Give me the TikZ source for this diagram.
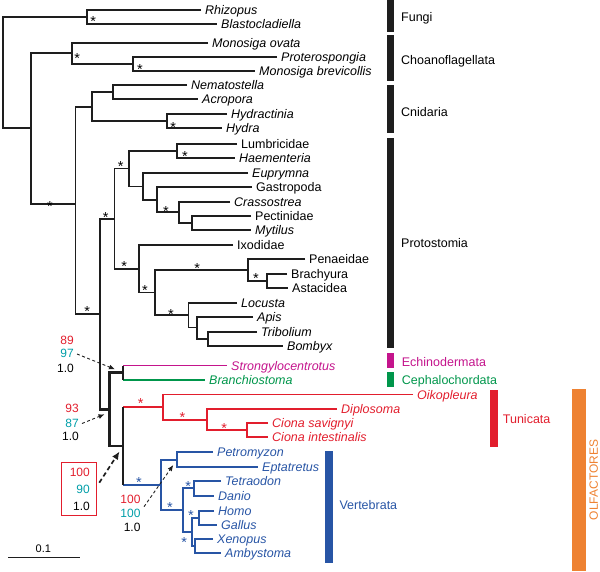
\documentclass[tikz,border=0pt]{standalone}
\usepackage{fontspec}
\setmainfont{Liberation Sans}
\usetikzlibrary{arrows.meta}
\definecolor{cred}{RGB}{226,30,45}
\definecolor{cteal}{RGB}{0,158,168}
\definecolor{cmag}{RGB}{196,20,140}
\definecolor{cgreen}{RGB}{0,150,75}
\definecolor{cblue}{RGB}{40,85,165}
\definecolor{corange}{RGB}{238,130,50}
\definecolor{cblk}{RGB}{30,30,30}
\newcommand\cladebr[4][]{\draw[br,#1] (#3) -| (#2) |- (#4);}
\begin{document}
\begin{tikzpicture}[x=1pt,y=-1pt,
  br/.style={line width=1.9pt,cblk},
  brthick/.style={line width=2.6pt,cblk},
  tip/.style={anchor=west,inner xsep=4pt,inner ysep=0pt,text height=9pt,text depth=0pt,font=\fontsize{12.5}{14}\selectfont},
  tipi/.style={tip,font=\fontsize{12.5}{14}\selectfont\itshape},
  grp/.style={anchor=west,inner sep=0pt,text height=9pt,text depth=0pt,font=\fontsize{12.5}{14}\selectfont},
  num/.style={anchor=east,inner sep=0pt,text height=8.6pt,text depth=0pt,font=\fontsize{12}{14}\selectfont},
  astk/.style={anchor=base,inner sep=0pt,yshift=-8.3pt,font=\fontsize{14.5}{16}\selectfont},
  darr/.style={dashed,line width=0.9pt,dash pattern=on 3pt off 2.5pt,cblk,-{Latex[length=6pt,width=5pt]}},
  darrthick/.style={line width=1.7pt,dash pattern=on 4.5pt off 3pt,cblk,-{Latex[length=8pt,width=7pt]}}]
\useasboundingbox (0,0) rectangle (600,571);
% tips
\coordinate (rhi) at (201,10);
\coordinate (bla) at (217,24);
\coordinate (mov) at (208,42.7);
\coordinate (pro) at (277,56.7);
\coordinate (mbr) at (255,70.7);
\coordinate (nem) at (187,85);
\coordinate (acr) at (198,99);
\coordinate (hyc) at (227,114.3);
\coordinate (hyd) at (222,128.3);
\coordinate (lum) at (237,144);
\coordinate (hae) at (235,158.3);
\coordinate (eup) at (248,172.7);
\coordinate (gas) at (252,186.7);
\coordinate (cra) at (230,201.7);
\coordinate (pec) at (251,216);
\coordinate (myt) at (251,230);
\coordinate (ixo) at (233,245);
\coordinate (pen) at (305,259.3);
\coordinate (bra) at (287,274);
\coordinate (ast) at (288,288.3);
\coordinate (loc) at (237,302.7);
\coordinate (api) at (253,316.7);
\coordinate (tri) at (257,331.7);
\coordinate (bom) at (283,345.7);
\coordinate (str) at (227,365.5);
\coordinate (brn) at (205,380);
\coordinate (oik) at (413,394.5);
\coordinate (dip) at (337,409);
\coordinate (csa) at (268,423.3);
\coordinate (cin) at (268,437.3);
\coordinate (pet) at (213,452);
\coordinate (ept) at (258,467.3);
\coordinate (tet) at (221,481);
\coordinate (dan) at (214,495.7);
\coordinate (hom) at (214,510.7);
\coordinate (gal) at (217,525);
\coordinate (xen) at (213,539.3);
\coordinate (amb) at (221,553.3);
% internal nodes
\coordinate (fun) at (87,17);
\coordinate (pm) at (133.3,63.7);
\coordinate (cho) at (72,53);
\coordinate (na) at (113,92);
\coordinate (hh) at (167,121.3);
\coordinate (cni) at (92,107);
\coordinate (lh) at (177,151);
\coordinate (pm2) at (191.7,223);
\coordinate (cpm) at (179.3,212);
\coordinate (gcpm) at (156.7,200);
\coordinate (mol) at (142.7,186.5);
\coordinate (lop) at (129.3,168.5);
\coordinate (ba) at (266.7,281);
\coordinate (crus) at (248.3,270);
\coordinate (tb) at (208,338.7);
\coordinate (atb) at (197,327.5);
\coordinate (ins) at (188.5,315);
\coordinate (pan) at (155,292.5);
\coordinate (ecd) at (139.3,268.7);
\coordinate (prot) at (114.5,218.6);
\coordinate (cb) at (123,372.7);
\coordinate (cion) at (246.7,430.3);
\coordinate (dc) at (207,419.6);
\coordinate (tun) at (163.3,407);
\coordinate (cyc) at (177.3,459.7);
\coordinate (td) at (194.3,488.3);
\coordinate (hg) at (199.3,517.8);
\coordinate (xa) at (195,546.3);
\coordinate (tetp) at (191.7,532);
\coordinate (gna) at (183.3,510.2);
\coordinate (vert) at (161,485);
\coordinate (olf) at (123,446);
\coordinate (deut) at (109.5,409.3);
\coordinate (bil) at (100,314);
\coordinate (cbi) at (75.5,204.3);
\coordinate (a) at (31,128);
\coordinate (root) at (3,70);
% tree
\cladebr{fun}{rhi}{bla}
\cladebr{pm}{pro}{mbr}
\cladebr{cho}{mov}{pm}
\cladebr{na}{nem}{acr}
\cladebr{hh}{hyc}{hyd}
\cladebr{cni}{na}{hh}
\cladebr{lh}{lum}{hae}
\cladebr{pm2}{pec}{myt}
\cladebr{cpm}{cra}{pm2}
\cladebr{gcpm}{gas}{cpm}
\cladebr{mol}{eup}{gcpm}
\cladebr{lop}{lh}{mol}
\cladebr{ba}{bra}{ast}
\cladebr{crus}{pen}{ba}
\cladebr{tb}{tri}{bom}
\cladebr{atb}{api}{tb}
\cladebr{ins}{loc}{atb}
\cladebr{pan}{crus}{ins}
\cladebr{ecd}{ixo}{pan}
\cladebr{prot}{lop}{ecd}
\cladebr{bil}{prot}{deut}
\draw[brthick] (bil) |- (deut);
\cladebr[brthick]{deut}{cb}{olf}
\draw[br,cmag] (cb|-str) -- (str);
\draw[br,cgreen] (cb|-brn) -- (brn);
\draw[brthick] (cb|-str) -- (cb|-brn);
\draw[br,cred] (olf|-tun) -- (tun);
\draw[br,cblue] (olf|-vert) -- (vert);
\draw[brthick] (olf|-tun) -- (olf|-vert);
\cladebr[cred]{tun}{oik}{dc}
\cladebr[cred]{dc}{dip}{cion}
\cladebr[cred]{cion}{csa}{cin}
\cladebr[cblue]{vert}{cyc}{gna}
\cladebr[cblue]{cyc}{pet}{ept}
\cladebr[cblue]{gna}{td}{tetp}
\cladebr[cblue]{td}{tet}{dan}
\cladebr[cblue]{tetp}{hg}{xa}
\cladebr[cblue]{hg}{hom}{gal}
\cladebr[cblue]{xa}{xen}{amb}
\cladebr{cbi}{cni}{bil}
\cladebr{a}{cho}{cbi}
\cladebr{root}{fun}{a}
% tip labels
\node[tipi] (Lrhi) at (rhi) {Rhizopus};
\node[tipi] (Lbla) at (bla) {Blastocladiella};
\node[tipi] (Lmov) at (mov) {Monosiga ovata};
\node[tipi] (Lpro) at (pro) {Proterospongia};
\node[tipi] (Lmbr) at (mbr) {Monosiga brevicollis};
\node[tipi] (Lnem) at (nem) {Nematostella};
\node[tipi] (Lacr) at (acr) {Acropora};
\node[tipi] (Lhyc) at (hyc) {Hydractinia};
\node[tipi] (Lhyd) at (hyd) {Hydra};
\node[tip] (Llum) at (lum) {Lumbricidae};
\node[tipi] (Lhae) at (hae) {Haementeria};
\node[tipi] (Leup) at (eup) {Euprymna};
\node[tip] (Lgas) at (gas) {Gastropoda};
\node[tipi] (Lcra) at (cra) {Crassostrea};
\node[tip] (Lpec) at (pec) {Pectinidae};
\node[tipi] (Lmyt) at (myt) {Mytilus};
\node[tip] (Lixo) at (ixo) {Ixodidae};
\node[tip] (Lpen) at (pen) {Penaeidae};
\node[tip] (Lbra) at (bra) {Brachyura};
\node[tip] (Last) at (ast) {Astacidea};
\node[tipi] (Lloc) at (loc) {Locusta};
\node[tipi] (Lapi) at (api) {Apis};
\node[tipi] (Ltri) at (tri) {Tribolium};
\node[tipi] (Lbom) at (bom) {Bombyx};
\node[tipi,cmag] (Lstr) at (str) {Strongylocentrotus};
\node[tipi,cgreen] (Lbrn) at (brn) {Branchiostoma};
\node[tipi,cred] (Loik) at (oik) {Oikopleura};
\node[tipi,cred] (Ldip) at (dip) {Diplosoma};
\node[tipi,cred] (Lcsa) at (csa) {Ciona savignyi};
\node[tipi,cred] (Lcin) at (cin) {Ciona intestinalis};
\node[tipi,cblue] (Lpet) at (pet) {Petromyzon};
\node[tipi,cblue] (Lept) at (ept) {Eptatretus};
\node[tipi,cblue] (Ltet) at (tet) {Tetraodon};
\node[tipi,cblue] (Ldan) at (dan) {Danio};
\node[tipi,cblue] (Lhom) at (hom) {Homo};
\node[tipi,cblue] (Lgal) at (gal) {Gallus};
\node[tipi,cblue] (Lxen) at (xen) {Xenopus};
\node[tipi,cblue] (Lamb) at (amb) {Ambystoma};
% stars
\node[astk] (s1) at (93.3,18.3) {*};
\node[astk] (s2) at (77.3,55) {*};
\node[astk] (s3) at (140,66) {*};
\node[astk] (s4) at (173.3,124) {*};
\node[astk] (s5) at (50,203) {*};
\node[astk] (s6) at (87.3,308.3) {*};
\node[astk] (s7) at (105.7,214) {*};
\node[astk] (s8) at (120.7,163.3) {*};
\node[astk] (s9) at (185,153.3) {*};
\node[astk] (s10) at (166,207.7) {*};
\node[astk] (s11) at (124.3,263.3) {*};
\node[astk] (s12) at (145,286.7) {*};
\node[astk] (s13) at (197.3,265.5) {*};
\node[astk] (s14) at (256,275.5) {*};
\node[astk] (s15) at (171,311) {*};
\node[astk,cred] (s16) at (140.7,400) {*};
\node[astk,cred] (s17) at (182.5,414) {*};
\node[astk,cred] (s18) at (224.2,425) {*};
\node[astk,cblue] (s19) at (139,479) {*};
\node[astk,cblue] (s20) at (170,504.3) {*};
\node[astk,cblue] (s21) at (188.3,482.7) {*};
\node[astk,cblue] (s22) at (191,511.7) {*};
\node[astk,cblue] (s23) at (184.3,539.3) {*};
% group bars and labels
\fill[cblk] (387,0) rectangle (394,31.7);
\fill[cblk] (387,35) rectangle (394,81);
\fill[cblk] (387,85) rectangle (394,133.3);
\fill[cblk] (387,138.3) rectangle (394,348);
\fill[cmag] (387,352.5) rectangle (394,368.3);
\fill[cgreen] (387,371.7) rectangle (394,386.7);
\fill[cred] (490,390) rectangle (498.3,446.7);
\fill[cblue] (325,450.7) rectangle (333.3,562.7);
\fill[corange] (571.7,389.3) rectangle (586,571);
\node[grp] (gfun) at (401,16.7) {Fungi};
\node[grp] (gcho) at (401,60) {Choanoflagellata};
\node[grp] (gcni) at (401,111.7) {Cnidaria};
\node[grp] (gpro) at (401,243.3) {Protostomia};
\node[grp,cmag] (gech) at (401.7,362.3) {Echinodermata};
\node[grp,cgreen] (gcep) at (401.7,380) {Cephalochordata};
\node[grp,cred] (gtun) at (502.7,419) {Tunicata};
\node[grp,cblue] (gver) at (339.3,505) {Vertebrata};
\node[inner sep=0pt,text height=8.6pt,text depth=0pt,font=\fontsize{12}{14}\selectfont,corange,rotate=90] (golf) at (593.5,480) {OLFACTORES};
% support values
\node[num,cred] (n1a) at (74,340) {89};
\node[num,cteal] (n1b) at (74,353.3) {97};
\node[num] (n1c) at (74,367.7) {1.0};
\node[num,cred] (n2a) at (79,408.3) {93};
\node[num,cteal] (n2b) at (79,422.7) {87};
\node[num] (n2c) at (79,435.7) {1.0};
\node[draw=cred,line width=0.9pt,minimum width=34.3pt,minimum height=52.7pt,inner sep=0pt] (box) at (78.85,488.65) {};
\node[num,cred] (n3a) at (90,472.3) {100};
\node[num,cteal] (n3b) at (90,489.3) {90};
\node[num] (n3c) at (90,506) {1.0};
\node[num,cred] (n4a) at (140.7,499.3) {100};
\node[num,cteal] (n4b) at (140.7,513.3) {100};
\node[num] (n4c) at (140.7,526.7) {1.0};
% arrows
\coordinate (a1s) at (77,354);
\coordinate (a1e) at (115,369.3);
\coordinate (a2s) at (82,423.5);
\coordinate (a2e) at (104.5,414.3);
\coordinate (a3s) at (99.3,482.7);
\coordinate (a3e) at (119.5,451.5);
\coordinate (a4s) at (144,506.7);
\coordinate (a4e) at (173.3,465);
\draw[darr] (a1s) -- (a1e);
\draw[darr] (a2s) -- (a2e);
\draw[darrthick] (a3s) -- (a3e);
\draw[darr] (a4s) -- (a4e);
% scale bar
\coordinate (sb1) at (8.3,557.3);
\coordinate (sb2) at (80,557.3);
\draw[line width=1.3pt,cblk] (sb1) -- (sb2);
\node[inner sep=0pt,font=\fontsize{11}{13}\selectfont] (sbl) at (43.3,549) {0.1};
\end{tikzpicture}
\end{document}
